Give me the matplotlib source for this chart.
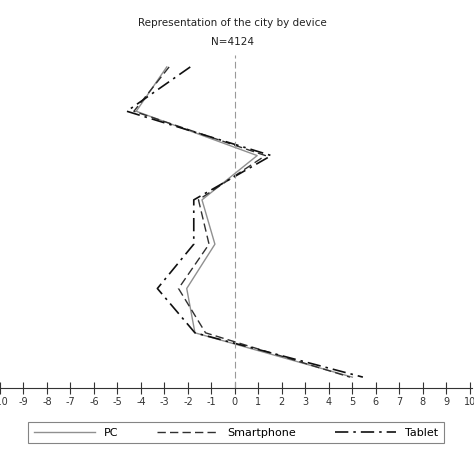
import matplotlib
matplotlib.use("Agg")
import matplotlib.pyplot as plt
from matplotlib.lines import Line2D

rows = list(range(8))
pc = [-2.9, -4.2, 0.95, -1.4, -0.85, -2.05, -1.7, 5.0]
smartphone = [-2.8, -4.3, 1.3, -1.55, -1.1, -2.4, -1.25, 4.9]
tablet = [-1.9, -4.6, 1.55, -1.75, -1.75, -3.3, -1.7, 5.45]
xticks = list(range(-10, 11))

fig = plt.figure(figsize=(4.74, 4.74), dpi=100)
ax = fig.add_axes([0.0, 0.181, 0.996, 0.703])

ax.plot(pc, rows, color="#909090", lw=1.0, label="PC")
ax.plot(smartphone, rows, color="#303030", lw=1.0, ls=(0, (6, 3)), label="Smartphone")
ax.plot(tablet, rows, color="#101010", lw=1.2, ls=(0, (8, 3, 1.5, 3)), label="Tablet")
ax.axvline(0, color="#999999", lw=0.8, ls=(0, (6, 3)))

ax.set_xlim(-10, 10.1)
ax.set_ylim(7.25, -0.27)
for s in ["left", "right", "top"]:
    ax.spines[s].set_visible(False)
ax.spines["bottom"].set_color("#333333")
ax.set_yticks([])
ax.set_xticks(xticks)
ax.set_xticklabels([str(t) for t in xticks])
ax.tick_params(axis="x", direction="inout", length=8, labelsize=7, colors="#333333", pad=2)

fig.text(0.49, 0.945, "Representation of the city by device", ha="center", fontsize=7.5, color="#222222")
fig.text(0.49, 0.905, "N=4124", ha="center", fontsize=7.5, color="#222222")

handles = [Line2D([], [], color="#909090", lw=1.0),
           Line2D([], [], color="#303030", lw=1.0, ls=(0, (6, 3))),
           Line2D([], [], color="#101010", lw=1.2, ls=(0, (8, 3, 1.5, 3)))]
leg = fig.legend(handles, ["PC", "Smartphone", "Tablet"], loc="center",
                 bbox_to_anchor=(0.498, 0.087), ncol=3, fontsize=8, frameon=True,
                 fancybox=False, edgecolor="#666666", handlelength=5.5, columnspacing=3.5,
                 borderpad=0.5)
leg.get_frame().set_linewidth(0.8)

fig.savefig("out.png", dpi=100)
